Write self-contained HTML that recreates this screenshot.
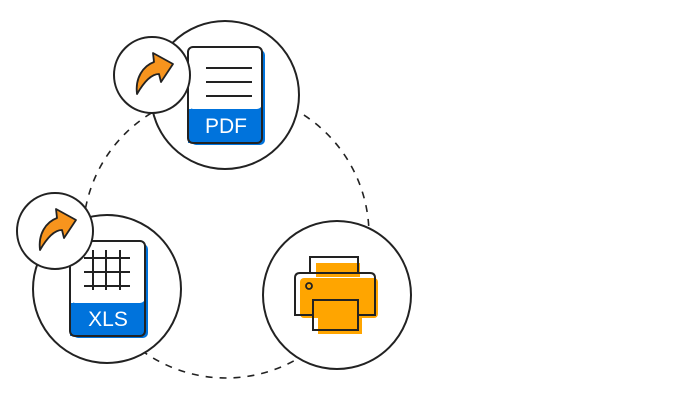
<!DOCTYPE html>
<html><head><style>body{margin:0;background:#fff}svg{display:block}</style></head><body>
<svg width="680" height="400" viewBox="0 0 680 400" xmlns="http://www.w3.org/2000/svg">
<circle cx="226" cy="235" r="143" fill="none" stroke="#222" stroke-width="1.6" stroke-dasharray="7 7"/>
<!-- PDF -->
<circle cx="225" cy="95" r="74" fill="#fff" stroke="#222" stroke-width="2"/>
<rect x="191" y="50" width="74" height="95" rx="5" fill="#0073dc"/>
<rect x="188" y="47" width="74" height="62" rx="5" fill="#fff"/>
<rect x="188" y="109" width="74" height="34" fill="#0073dc"/>
<rect x="188" y="47" width="74" height="96" rx="5" fill="none" stroke="#222" stroke-width="2"/>
<path d="M206 68H252M206 82H252M206 96H252" stroke="#222" stroke-width="2"/>
<text x="226" y="133" font-family="Liberation Sans, sans-serif" font-size="21" fill="#fff" text-anchor="middle">PDF</text>
<circle cx="152" cy="75" r="38" fill="#fff" stroke="#222" stroke-width="2"/>
<path d="M137 94C135 78 143 66 154 62L153 53L173 64L161 82L159 74C151 74 144 82 137 94Z" fill="#f7941d" stroke="#222" stroke-width="1.8" stroke-linejoin="round"/>
<!-- XLS -->
<circle cx="107" cy="289" r="74" fill="#fff" stroke="#222" stroke-width="2"/>
<rect x="73" y="244" width="75" height="94" rx="5" fill="#0073dc"/>
<rect x="70" y="241" width="75" height="62" rx="5" fill="#fff"/>
<rect x="70" y="303" width="75" height="33" fill="#0073dc"/>
<rect x="70" y="241" width="75" height="95" rx="5" fill="none" stroke="#222" stroke-width="2"/>
<path d="M93 250V290M106 250V290M120 250V290M84 258H130M84 272H130M84 286H130" stroke="#222" stroke-width="2"/>
<text x="108" y="326" font-family="Liberation Sans, sans-serif" font-size="21" fill="#fff" text-anchor="middle">XLS</text>
<circle cx="55" cy="231" r="38" fill="#fff" stroke="#222" stroke-width="2"/>
<path d="M40 250C38 234 46 222 57 218L56 209L76 220L64 238L62 230C54 230 47 238 40 250Z" fill="#f7941d" stroke="#222" stroke-width="1.8" stroke-linejoin="round"/>
<!-- Printer -->
<circle cx="337" cy="295" r="74" fill="#fff" stroke="#222" stroke-width="2"/>
<rect x="316" y="263" width="44" height="14" fill="#ffa500"/>
<rect x="300" y="278" width="78" height="40" rx="4" fill="#ffa500"/>
<rect x="318" y="305" width="44" height="29" fill="#ffa500"/>
<rect x="310" y="257" width="48" height="16" fill="none" stroke="#222" stroke-width="2"/>
<path d="M313 315H295V278Q295 273 300 273H370Q375 273 375 278V315H358" fill="none" stroke="#222" stroke-width="2"/>
<rect x="313" y="300" width="45" height="30" fill="none" stroke="#222" stroke-width="2"/>
<circle cx="309" cy="286" r="3" fill="none" stroke="#222" stroke-width="1.8"/>
</svg>
</body></html>
